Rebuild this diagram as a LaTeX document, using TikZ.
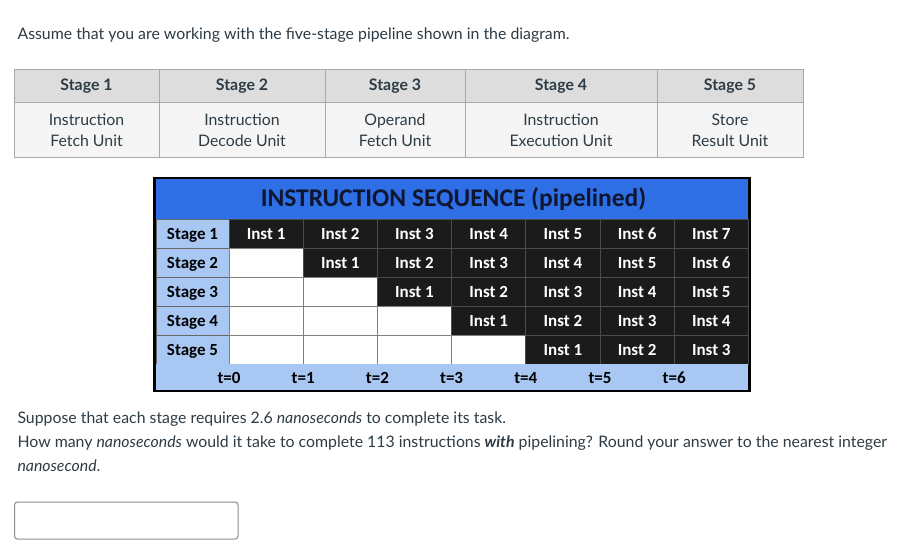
\documentclass[tikz,border=0pt]{standalone}
\usepackage{fontspec}
\setmainfont{Lato}
\newfontfamily\calibri{Carlito}
\usepackage{tikz}

\definecolor{texto}{HTML}{2D3B45}
\definecolor{gris}{HTML}{DDDDDD}
\definecolor{grisclaro}{HTML}{F5F5F5}
\definecolor{borde}{HTML}{A9A9A9}
\definecolor{azul}{HTML}{2F6FE6}
\definecolor{celeste}{HTML}{A9C7F3}
\definecolor{negro}{HTML}{1B1B1B}
\definecolor{marino}{HTML}{0F1630}

\tikzset{
  parrafo/.style={anchor=base west,text=texto,font=\fontsize{15.85}{19}\selectfont},
  cabecera/.style={text=texto,font=\bfseries\fontsize{15.85}{19}\selectfont},
  unidad/.style={text=texto,align=center,font=\fontsize{15.85}{21}\selectfont},
  etiqueta/.style={font=\calibri\bfseries\fontsize{17}{19}\selectfont,anchor=base,yshift=-5.6pt},
  celda/.style={draw=black!60,line width=.8pt}
}

\begin{document}
\begin{tikzpicture}[x=1pt,y=-1pt]
   \useasboundingbox[fill=white] (0,0) rectangle (903,554);
   %enunciado
   \node[parrafo] (enunciado) at (14,39) {Assume that you are working with the five-stage pipeline shown in the diagram.};
   %tabla de etapas
   \foreach \a/\b/\s/\l/\m [count=\i] in {14/159/Stage 1/Instruction/Fetch Unit,
         159/325/Stage 2/Instruction/Decode Unit,
         325/465/Stage 3/Operand/Fetch Unit,
         465/657/Stage 4/Instruction/Execution Unit,
         657/803/Stage 5/Store/Result Unit} {
      \fill[gris] (\a,69) rectangle (\b,102);
      \fill[grisclaro] (\a,102) rectangle (\b,157);
      \draw[borde] (\a,69) rectangle (\b,157);
      \node[cabecera] (etapa\i) at ({(\a+\b)/2},86) {\s};
      \node[unidad] (unidad\i) at ({(\a+\b)/2},130) {\l\\\m};
   }
   \draw[borde] (14,102) -- (803,102);
   %marco
   \fill[black] (153,177) rectangle (751,392);
   \fill[azul] (156,179) rectangle (748.4,219);
   \node[font=\calibri\bfseries\fontsize{25.5}{28}\selectfont,text=marino] (titulo) at (453.5,199) {INSTRUCTION SEQUENCE (pipelined)};
   %filas
   \foreach \r in {1,...,5} {
      \pgfmathsetmacro{\ya}{219+29*(\r-1)}
      \pgfmathsetmacro{\yb}{219+29*\r}
      \fill[celeste] (156,\ya) rectangle (229,\yb);
      \draw[celda] (156,\ya) rectangle (229,\yb);
      \node[etiqueta] (fila\r) at (192.5,{(\ya+\yb)/2}) {Stage \r};
      \foreach \c in {1,...,7} {
         \pgfmathsetmacro{\xa}{229+74.2*(\c-1)}
         \pgfmathsetmacro{\xb}{229+74.2*\c}
         \ifnum\c<\r
            \fill[white] (\xa,\ya) rectangle (\xb,\yb);
            \draw[celda,draw=black!50] (\xa,\ya) rectangle (\xb,\yb);
         \else
            \fill[negro] (\xa,\ya) rectangle (\xb,\yb);
            \draw[celda,draw=black!70] (\xa,\ya) rectangle (\xb,\yb);
            \pgfmathtruncatemacro{\n}{\c-\r+1}
            \node[etiqueta,text=white] (inst\r\c) at ({(\xa+\xb)/2},{(\ya+\yb)/2}) {Inst \n};
         \fi
      }
   }
   %tiempos
   \fill[celeste] (156,364) rectangle (748.4,390);
   \foreach \t in {0,...,6}
      \node[etiqueta] (t\t) at ({229+74.2*\t},377.5) {t=\t};
   %pregunta
   \node[parrafo] (linea1) at (14,423) {Suppose that each stage requires 2.6 \textit{nanoseconds} to complete its task.};
   \node[parrafo] (linea2) at (14,447) {How many \textit{nanoseconds} would it take to complete 113 instructions \textbf{\textit{with}} pipelining? Round your answer to the nearest integer};
   \node[parrafo] (linea3) at (14,471) {\textit{nanosecond}.};
   %respuesta
   \draw[black!45,line width=1pt,rounded corners=3pt,fill=white] (14.5,502) rectangle (238,539);
\end{tikzpicture}
\end{document}
